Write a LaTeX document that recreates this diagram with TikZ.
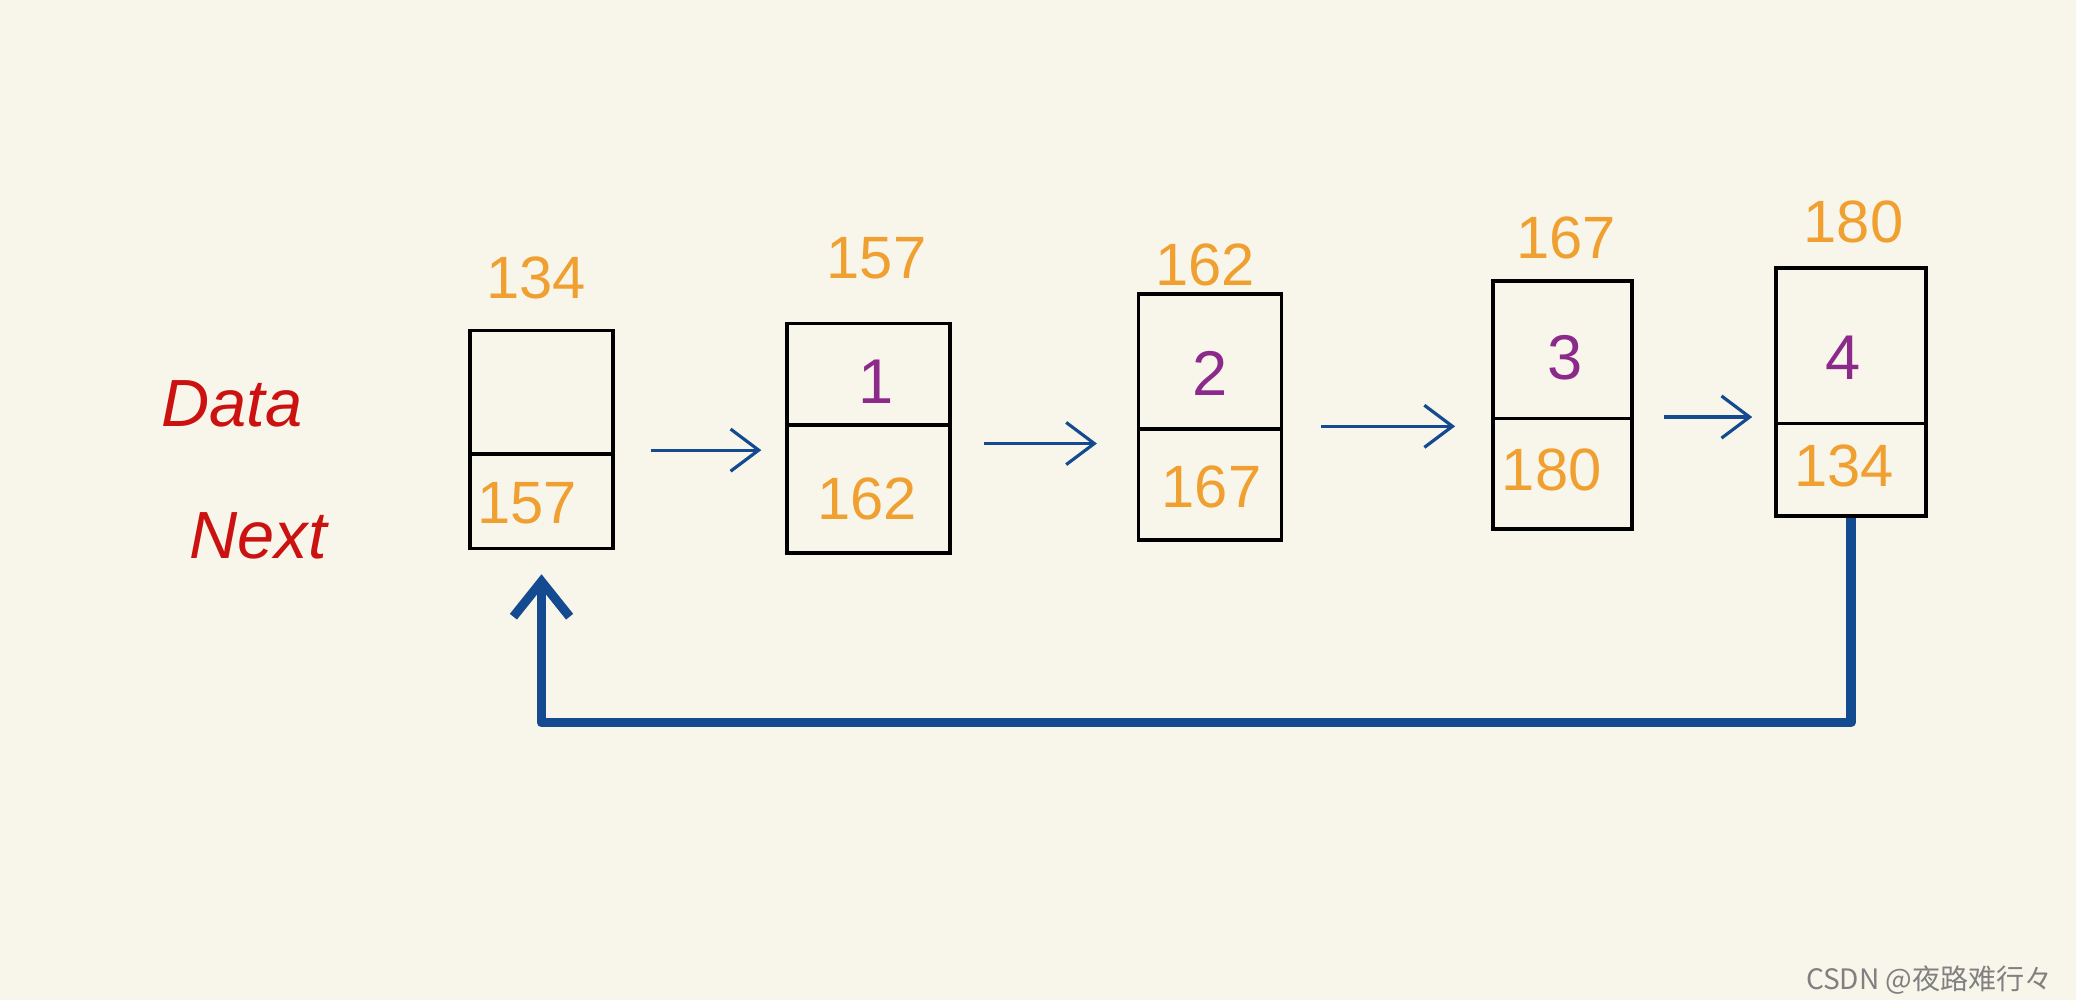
\documentclass[tikz,border=0pt]{standalone}
\usepackage{fontspec}
\setmainfont{Liberation Sans}
\newfontfamily\cjk{Noto Sans CJK SC}
\usetikzlibrary{arrows.meta}
\definecolor{bg}{HTML}{F8F6EA}
\definecolor{org}{HTML}{F0A030}
\definecolor{pur}{HTML}{8B2A8B}
\definecolor{blu}{HTML}{134A90}
\definecolor{rd}{HTML}{CC1111}
\begin{document}
\begin{tikzpicture}[x=0.01324cm,y=-0.01324cm,
  box/.style={draw=black,line width=1pt,inner sep=0pt},
  addr/.style={text=org,font=\fontsize{17}{19}\selectfont},
  dat/.style={text=pur,font=\fontsize{18}{20}\selectfont},
  lab/.style={text=rd,font=\fontsize{19}{21}\selectfont\itshape},
  arr/.style={draw=blu,line width=0.9pt,-{Straight Barb[length=8pt,width=12pt]}},
  back/.style={draw=blu,line width=2.6pt,line join=round,-{Straight Barb[length=10pt,width=16pt]}}]
\fill[bg] (0,0) rectangle (1568,755);
\useasboundingbox (0,0) rectangle (1568,755);
\node[lab] (data) at (175,305) {Data};
\node[lab] (next) at (195,405) {Next};
% boxes
\node[box,minimum width=1.43cm,minimum height=2.18cm] (b1) at (409,332) {};
\node[box,minimum width=1.63cm,minimum height=2.30cm] (b2) at (656,331) {};
\node[box,minimum width=1.43cm,minimum height=2.46cm] (b3) at (914,315) {};
\node[box,minimum width=1.39cm,minimum height=2.48cm] (b4) at (1180,306) {};
\node[box,minimum width=1.50cm,minimum height=2.48cm] (b5) at (1398,296) {};
\draw[line width=1pt] (b1.west|-{(0,343)}) -- (b1.east|-{(0,343)});
\draw[line width=1pt] (b2.west|-{(0,321)}) -- (b2.east|-{(0,321)});
\draw[line width=1pt] (b3.west|-{(0,324)}) -- (b3.east|-{(0,324)});
\draw[line width=1pt] (b4.west|-{(0,316)}) -- (b4.east|-{(0,316)});
\draw[line width=1pt] (b5.west|-{(0,320)}) -- (b5.east|-{(0,320)});
% addresses
\node[addr] (a1) at (405,210) {134};
\node[addr] (a2) at (662,195) {157};
\node[addr] (a3) at (910,200) {162};
\node[addr] (a4) at (1183,180) {167};
\node[addr] (a5) at (1400,168) {180};
% data
\node[dat] (d2) at (662,288) {1};
\node[dat] (d3) at (914,282) {2};
\node[dat] (d4) at (1182,270) {3};
\node[dat] (d5) at (1392,270) {4};
% next
\node[addr] (n1) at (398,380) {157};
\node[addr] (n2) at (655,377) {162};
\node[addr] (n3) at (915,368) {167};
\node[addr] (n4) at (1172,355) {180};
\node[addr] (n5) at (1393,352) {134};
% arrows
\draw[arr,shorten <=0.36cm,shorten >=0.24cm] (b1.east|-{(0,340)}) -- (b2.west|-{(0,340)});
\draw[arr,shorten <=0.32cm,shorten >=0.40cm] (b2.east|-{(0,335)}) -- (b3.west|-{(0,335)});
\draw[arr,shorten <=0.38cm,shorten >=0.36cm] (b3.east|-{(0,322)}) -- (b4.west|-{(0,322)});
\draw[arr,shorten <=0.30cm,shorten >=0.22cm] (b4.east|-{(0,315)}) -- (b5.west|-{(0,315)});
\draw[back,shorten >=0.24cm] (b5.south) -- (b5.south|-{(0,546)}) -- (b1.south|-{(0,546)}) -- (b1.south);
\node[text=gray,font=\cjk\fontsize{8}{10}\selectfont,anchor=east] (wm) at (1560,740) {CSDN @夜路难行々};
\end{tikzpicture}
\end{document}
